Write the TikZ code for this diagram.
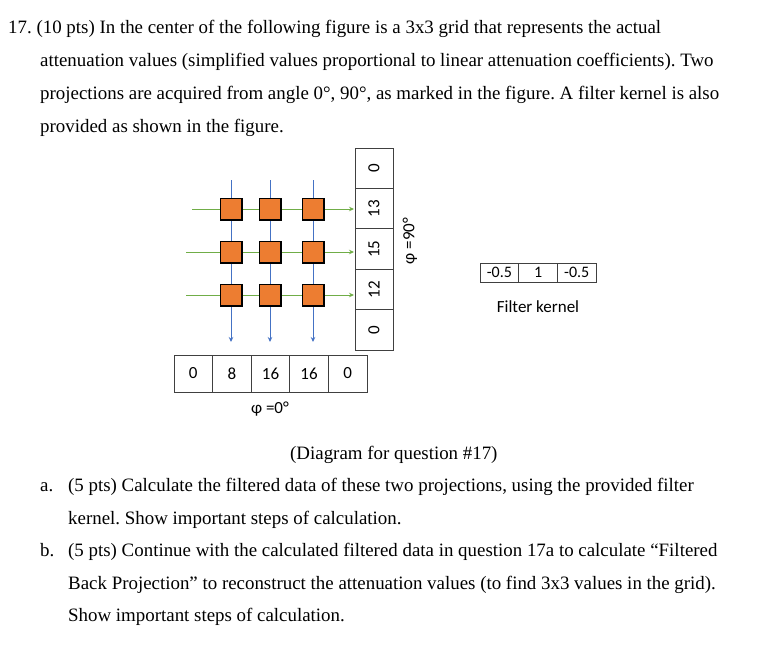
\documentclass[tikz,border=0pt]{standalone}
\usepackage{fontspec}
\setmainfont{Liberation Serif}
\newfontfamily\calfont{Carlito}
\usetikzlibrary{arrows.meta}
\frenchspacing
\begin{document}
\begin{tikzpicture}[x=1pt,y=-1pt,
 txt/.style={anchor=base west,inner sep=0pt,font=\fontsize{18.9}{22}\selectfont},
 cell/.style={draw=black!75,line width=0.8pt,minimum width=38.6pt,minimum height=37pt,inner sep=0pt,font=\calfont\fontsize{17}{19}\selectfont},
 kcell/.style={draw=black!75,line width=0.8pt,minimum width=38.7pt,minimum height=19pt,inner sep=0pt,font=\calfont\fontsize{16}{18}\selectfont},
 sq/.style={draw=black,line width=1.5pt,fill={rgb,255:red,237;green,125;blue,49},minimum size=21.5pt,inner sep=0pt},
 blu/.style={draw={rgb,255:red,68;green,114;blue,196},line width=1pt,-{Stealth[length=5pt,width=4.5pt]}},
 grn/.style={draw={rgb,255:red,112;green,173;blue,71},line width=1pt,-{Stealth[length=5pt,width=4.5pt]}},
 lab/.style={inner sep=0pt,font=\calfont\fontsize{17}{19}\selectfont}]
\useasboundingbox (0,0) rectangle (767,653);
\node[txt] (l1) at (8,33) {17. (10 pts) In the center of the following figure is a 3x3 grid that represents the actual};
\node[txt] (l2) at (40,66) {attenuation values (simplified values proportional to linear attenuation coefficients). Two};
\node[txt] (l3) at (40,99) {projections are acquired from angle 0°, 90°, as marked in the figure. A filter kernel is also};
\node[txt] (l4) at (40,132) {provided as shown in the figure.};
\node[txt] (cap) at (290,459) {(Diagram for question \#17)};
\node[txt] (a) at (40,491) {a.};
\node[txt] (a1) at (68,491) {(5 pts) Calculate the filtered data of these two projections, using the provided filter};
\node[txt] (a2) at (68,524) {kernel. Show important steps of calculation.};
\node[txt] (b) at (40,556) {b.};
\node[txt] (b1) at (68,556) {(5 pts) Continue with the calculated filtered data in question 17a to calculate “Filtered};
\node[txt] (b2) at (68,589) {Back Projection” to reconstruct the attenuation values (to find 3x3 values in the grid).};
\node[txt] (b3) at (68,621) {Show important steps of calculation.};
% vertical projection table
\foreach \v [count=\i] in {0,13,15,12,0} {
  \node[cell,rotate=90,minimum width=40.4pt,minimum height=38pt] (v\i) at (374,{148+40.4*(\i-0.5)}) {\v};
}
% bottom table
\foreach \v [count=\i] in {0,8,16,16,0} {
  \node[cell] (h\i) at ({174+38.6*(\i-0.5)},373.5) {\v};
}
% flow lines
\coordinate (t1) at (231,180); \coordinate (t2) at (270,180); \coordinate (t3) at (313,180);
\coordinate (e1) at (231,342); \coordinate (e2) at (270,342); \coordinate (e3) at (313,342);
\coordinate (s1) at (192,209); \coordinate (s2) at (186,252); \coordinate (s3) at (186,295);
\coordinate (f1) at (354,209); \coordinate (f2) at (354,252); \coordinate (f3) at (354,295);
\foreach \i in {1,2,3} {\draw[grn] (s\i) -- (f\i);}
\foreach \i in {1,2,3} {\draw[blu] (t\i) -- (e\i);}
\foreach \c/\x in {1/231,2/270,3/313} {
  \foreach \r/\y in {1/209,2/252,3/295} {
    \node[sq] (q\r\c) at (\x,\y) {};
  }
}
\node[lab] (p0) at (270,409) {φ =0°};
\node[lab,rotate=90] (p90) at (410,241) {φ =90°};
% filter kernel
\foreach \v [count=\i] in {-0.5,1,-0.5} {
  \node[kcell] (k\i) at ({480+38.7*(\i-0.5)},272.5) {\v};
}
\node[lab] (fk) at (538,307) {Filter kernel};
\end{tikzpicture}
\end{document}
